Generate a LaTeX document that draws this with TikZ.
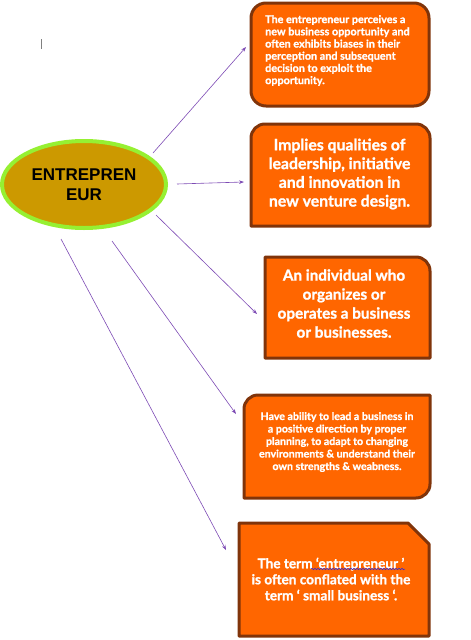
\documentclass[tikz,border=0pt]{standalone}
\usepackage{fontspec}
\usetikzlibrary{arrows.meta,shapes.geometric,decorations.pathmorphing}
\setsansfont{Liberation Sans}
\newfontfamily\boxfont{Lato}[BoldFeatures={FakeBold=1.2}]
\definecolor{boxfill}{RGB}{255,102,0}
\definecolor{boxedge}{RGB}{128,52,10}
\definecolor{ellfill}{RGB}{204,153,0}
\definecolor{ellrim}{RGB}{150,240,50}
\definecolor{arrowc}{RGB}{125,75,180}
\definecolor{wavec}{RGB}{40,40,220}
\begin{document}
\begin{tikzpicture}[x=1pt,y=-1pt,
  boxshape/.style={fill=boxfill,draw=boxedge,line width=3pt,line join=round},
  boxtext/.style={text=white,align=center,inner sep=0pt},
  link/.style={draw=arrowc,line width=0.6pt,-{Stealth[length=5pt,width=3.6pt]}},
  wavy/.style={draw=wavec,line width=0.5pt,decorate,decoration={snake,amplitude=0.8pt,segment length=3pt}}]
\useasboundingbox (0,0) rectangle (471,640);

% small mark
\draw[gray,line width=0.8pt] (41,39) -- (41,49);

% central ellipse
\node[ellipse,minimum width=164pt,minimum height=87pt,fill=ellfill,draw=ellrim,line width=4pt,
      align=center,font=\sffamily\bfseries\fontsize{17}{20}\selectfont,inner sep=0pt] (ent) at (84,184.5) {ENTREPREN\\EUR};

% boxes
\draw[boxshape,rounded corners=15pt] (251,3) rectangle (429,106);
\draw[boxshape] (251,226) -- (251,138) arc[start angle=180,end angle=270,radius=14]
  -- (416,124) arc[start angle=270,end angle=360,radius=14] -- (430,226) -- cycle;
\draw[boxshape] (265,358) -- (265,257) -- (416,257) arc[start angle=270,end angle=360,radius=14]
  -- (430,358) -- cycle;
\draw[boxshape] (244,498) -- (244,409) arc[start angle=180,end angle=270,radius=14]
  -- (430,395) -- (430,484) arc[start angle=0,end angle=90,radius=14] -- cycle;
\draw[boxshape] (239,523) -- (408,523) -- (429,544) -- (429,636) -- (239,636) -- cycle;

% texts
\node[boxtext,align=left,anchor=west,font=\boxfont\bfseries\fontsize{10.8}{12.2}\selectfont] (t1) at (265,50.5)
  {The entrepreneur perceives a\\new business opportunity and\\often exhibits biases in their\\perception and subsequent\\decision to exploit the\\opportunity.};
\node[boxtext,font=\boxfont\bfseries\fontsize{15.8}{18.7}\selectfont] (t2) at (339.5,174)
  {Implies qualities of\\leadership, initiative\\and innovation in\\new venture design.};
\node[boxtext,font=\boxfont\bfseries\fontsize{15.3}{19}\selectfont] (t3) at (344,303.5)
  {An individual who\\organizes or\\operates a business\\or businesses.};
\node[boxtext,font=\boxfont\bfseries\fontsize{10.6}{12.5}\selectfont] (t4) at (337,442)
  {Have ability to lead a business in\\a positive direction by proper\\planning, to adapt to changing\\environments \& understand their\\own strengths \& weabness.};
\node[boxtext,font=\boxfont\bfseries\fontsize{13.6}{16}\selectfont] (t5) at (331,579)
  {The term ‘entrepreneur ’\\is often conflated with the\\term ‘ small business ‘.};
\draw[wavy] (311,569) -- (405,569);

% connectors
\coordinate (s1) at (153,153); \coordinate (e1) at (246,47);
\coordinate (s2) at (177,184); \coordinate (e2) at (244,182);
\coordinate (s3) at (156,215); \coordinate (e3) at (257,314);
\coordinate (s4) at (112,241); \coordinate (e4) at (236,414);
\coordinate (s5) at (61,239);  \coordinate (e5) at (226,550);
\draw[link] (s1) -- (e1);
\draw[link] (s2) -- (e2);
\draw[link] (s3) -- (e3);
\draw[link] (s4) -- (e4);
\draw[link] (s5) -- (e5);
\end{tikzpicture}
\end{document}
